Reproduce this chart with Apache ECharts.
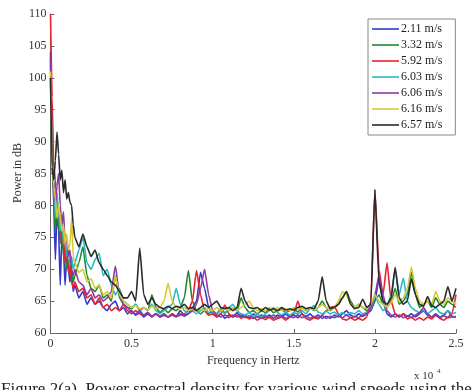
<!DOCTYPE html>
<html>
<head>
<meta charset="utf-8">
<script src="https://cdn.jsdelivr.net/npm/echarts@6/dist/echarts.min.js"></script>
<style>html,body{margin:0;padding:0;background:#fff;}#c{width:474px;height:390px;}</style>
</head>
<body>
<div id="c"></div>
<script>
// Frequency grid (x 10^4 Hz)
var freq = [0,0.01,0.02,0.03,0.04,0.05,0.06,0.07,0.08,0.09,0.10,0.11,0.12,0.13,0.14,0.15,
0.175,0.2,0.225,0.25,0.275,0.3,0.325,0.35,0.375,0.4,0.425,0.45,0.475,0.5,0.525,0.55,0.575,0.6,0.625,0.65,0.675,0.7,0.725,0.75,0.775,0.8,0.825,0.85,0.875,0.9,0.925,0.95,0.975,
1.0,1.025,1.05,1.075,1.1,1.125,1.15,1.175,1.2,1.225,1.25,1.275,1.3,1.325,1.35,1.375,1.4,1.425,1.45,1.475,1.5,1.525,1.55,1.575,1.6,1.625,1.65,1.675,1.7,1.725,1.75,1.775,1.8,1.825,1.85,1.875,1.9,1.925,1.95,1.975,
2.0,2.025,2.05,2.075,2.1,2.125,2.15,2.175,2.2,2.225,2.25,2.275,2.3,2.325,2.35,2.375,2.4,2.425,2.45,2.475,2.5];

var seriesNames = ['2.11 m/s','3.32 m/s','5.92 m/s','6.03 m/s','6.06 m/s','6.16 m/s','6.57 m/s'];

var p211 = [104,88,80,71.5,79,76,67.5,75,73,67.5,72,70,68,69.5,66.5,67.5,
65.5,66.5,64.5,65.5,64.5,65,64,63.5,64.5,65,63.5,64,63,63.5,62.8,63.2,62.5,63,62.5,63,62.6,63,62.5,63,62.6,63.5,62.8,63,64,65,69.5,67,64,
63,62.5,63,62.3,62.8,62.5,63.2,62.5,62.8,62.3,63,62.5,62.8,62.4,62.8,62.3,62.8,62.5,63,62.5,62.8,62.4,63,62.5,63,62.4,62.8,62.3,62.6,62.3,62.8,62.5,63,63.5,62.8,62.5,63,62.6,63,63.5,
65,68.5,65,63,62.5,63,62.5,63,62.6,63,62.5,63,63.5,62.8,62.5,63,62.5,62.8,63.5,62.6,62.5];

var p332 = [100,86,82,76,80,77,74,76.5,72,73.5,70,71.5,69,70,68,69,
71,73.5,69,67,66.5,67.5,65.5,66,65,69,65.5,64.5,64,63.8,64.5,63.5,64,63.5,66,64,63.2,63.8,63.2,63.8,63.5,64,65.5,69.8,65,63.5,63,63.5,63,
63.5,63,63.8,63.2,63.5,64,63.5,65.5,64,63.2,63.5,63,63.5,63.2,63.8,63.2,63.5,63.8,63.2,63.5,63.8,63.3,64,63.5,64,63.5,64,65,64,63.5,64,64.5,65.5,66.5,65,64,64.5,64,63.5,64,
65,66,64.5,64,65,67,64.5,65,66,69.5,66,64,64.5,65,64,65.5,64.5,64,65,64.5,64];

var p592 = [110,97,86,84,80,78,77,74,75,71,73,69.5,71,68,67,68,
66.5,67,65.5,66,64.5,65.5,64,64.5,63.5,64,63.5,64.5,63.5,63,63.5,63,62.8,63.2,62.6,63,62.5,62.8,62.5,63,62.6,62.8,63,63.5,65,69.8,66,63.5,62.8,
63,62.5,63,64.4,63,62.5,62.8,62.3,62.6,62.2,62.5,62,62.4,62.1,62.5,62,62.3,62.5,62,62.5,63,65,63,62.3,62,62.4,62.2,62.8,63.5,64,64.2,63,62.2,62,62.4,62,62.3,62,62.5,65,
82.5,70,66,71,65,63,62.5,63,62.2,62.5,62,62.4,62,62.5,62.2,62.8,62.3,62,62.5,63,66];

var p603 = [102,88,84,78,82,79,76,78,74,75.5,72,73,70.5,72,70,71,
73,75,71,70,71.5,72.5,69,70,67.5,66,67,65,64.5,64,64.5,63.5,64,63.5,64.5,63.5,63,63.5,64,64.5,67,64.5,63.5,63,63.5,63,63.5,64,63.2,
63.5,63,63.5,63,64,64.5,63.5,63,62.8,63.2,62.6,63,62.5,63,63.5,64,63.2,62.8,63.2,62.8,63.2,63,63.5,63,63.8,64.3,63.3,63,63.4,63,63.3,62.8,63.2,62.8,63.2,63,63.5,63,63.3,63.8,
66,64.5,63.5,64,66,70,66,68.6,65,64,63.5,63.2,63.6,63,63.5,64,63.2,63,63.5,63,63.2];

var p606 = [103,90,84,80,83,85,80,77,79,74,75,72,73,70,69,70,
68,67.5,66,67,65.5,66,65,65.5,66.5,70.5,66,64.5,64,63.3,63,63.5,62.8,63.2,62.6,63,62.5,62.8,62.5,62.8,62.5,63,62.6,63,63.5,64.5,67,70,66,
63.5,62.8,62.5,62.8,62.4,62.8,62.5,62.8,62.4,62.7,62.3,62.6,62.3,62.7,62.4,62.8,62.4,62.7,62.3,62.6,62.4,62.8,62.4,62.7,62.3,62.6,62.4,62.7,62.3,62.6,62.4,62.7,62.4,62.8,62.4,62.6,62.4,62.8,63,64,
66,69,66,63.5,62.8,62.5,62.8,62.4,62.7,62.4,62.8,63.2,64,63,62.5,62.8,62.4,62.7,62.4,62.5,62.6];

var p616 = [101,87,83,81,78,80,78.5,76,77,74,75.5,73,74,78,72,71,
69.5,70,68,68.5,67,67.5,66,66.5,65.5,69,66,65,64.5,64,64.3,63.8,64,63.6,64.2,63.8,64,65,67.8,65,64,63.8,64,63.5,63.8,63.4,63.8,63.5,63.8,
63.5,64,63.5,63.8,63.5,64,63.6,64,64.5,65,64,63.5,63.8,63.5,64,63.6,64,63.5,63.8,63.5,64,63.6,64,63.5,64,63.6,64,64.5,64,63.6,64,65,66.5,66,64.5,64,64.5,64,63.8,64.5,
66,65,64.5,64,64.8,66,65,65.5,67,70.3,67,65,64.5,65,64.5,66.5,65,64.5,65.5,65,64.5];

var p657 = [100,86,84,87,91.5,88,84,85.5,82,84,81,82,80.5,80,77,75,
73.5,75.5,73.5,72,73,71,70,69,68,67.5,66.5,65.5,65.5,66.5,65,73.3,66,64.5,65.5,64.5,64,63.8,64.2,63.8,64.2,64,64.5,63.8,64,63.5,64,64.5,64,
64.5,65,64,63.8,64,63.5,64,67,65,64,63.8,64,63.5,64,63.6,63.8,63.5,64,63.6,63.8,63.6,64,64.2,63.8,64,63.8,65,68.8,65,63.8,64,64.5,65.5,66.5,64.5,63.8,64,65.3,64,64.5,
82.5,68,65,64.5,65.5,70.3,65.5,64.5,65,68.5,66,64.5,64.2,65.7,64.3,64,64.5,65,67.3,65,67];

var values = [p211,p332,p592,p603,p606,p616,p657];
var colors = ['#3438c8','#1e8a2e','#e8232a','#2ab8c8','#8a3aa0','#d8c838','#2a2a2a'];

var FONT = '"Liberation Serif","DejaVu Serif",serif';

var chart = echarts.init(document.getElementById('c'), null, {renderer:'canvas'});
var series = values.map(function(v, k){
  return {
    name: seriesNames[k],
    type: 'line',
    data: freq.map(function(f,i){ return [f, v[i]]; }),
    symbol: 'none',
    smooth: 0.15,
    smoothMonotone: 'x',
    lineStyle: {width: 1.6, color: colors[k]},
    itemStyle: {color: colors[k]},
    z: 2 + k,
    animation: false
  };
});

chart.setOption({
  animation: false,
  backgroundColor: '#fff',
  grid: {left: 50.5, right: 18, top: 14, bottom: 57, containLabel: false},
  xAxis: {
    type: 'value', min: 0, max: 2.5, interval: 0.5,
    name: 'Frequency in Hertz', nameLocation: 'middle', nameGap: 18,
    nameTextStyle: {fontFamily: FONT, fontSize: 12, color: '#333'},
    axisLine: {show: true, lineStyle: {color: '#666', width: 1}},
    axisTick: {show: true, inside: true, length: 4, lineStyle: {color: '#666'}},
    axisLabel: {fontFamily: FONT, fontSize: 12, color: '#333', margin: 5,
      formatter: function(v){ return String(v); }},
    splitLine: {show: false}
  },
  yAxis: {
    type: 'value', min: 60, max: 110, interval: 5,
    axisLine: {show: true, lineStyle: {color: '#666', width: 1}},
    axisTick: {show: true, inside: true, length: 4, lineStyle: {color: '#666'}},
    axisLabel: {fontFamily: FONT, fontSize: 12, color: '#333', margin: 4},
    splitLine: {show: false}
  },
  legend: {
    orient: 'vertical', left: 368, top: 19,
    data: seriesNames,
    icon: 'rect',
    itemWidth: 27, itemHeight: 1.6, itemGap: 4,
    padding: [4, 13, 4, 4],
    borderColor: '#888', borderWidth: 1, backgroundColor: '#fff',
    textStyle: {fontFamily: FONT, fontSize: 12, color: '#222', padding: [0,0,0,-3]}
  },
  graphic: [
    {type: 'text', x: 18, y: 173, rotation: Math.PI / 2,
      style: {text: 'Power in dB', font: '12px ' + FONT, fill: '#333', align: 'center', verticalAlign: 'middle'}},
    {type: 'text', left: 414, top: 371, style: {text: 'x 10', font: '11px ' + FONT, fill: '#333'}},
    {type: 'text', left: 437, top: 368, style: {text: '4', font: '7px ' + FONT, fill: '#333'}},
    {type: 'text', left: 1, top: 381, style: {text: 'Figure 2(a). Power spectral density for various wind speeds using the', font: '17px ' + FONT, fill: '#222'}}
  ],
  series: series
});
</script>
</body>
</html>
